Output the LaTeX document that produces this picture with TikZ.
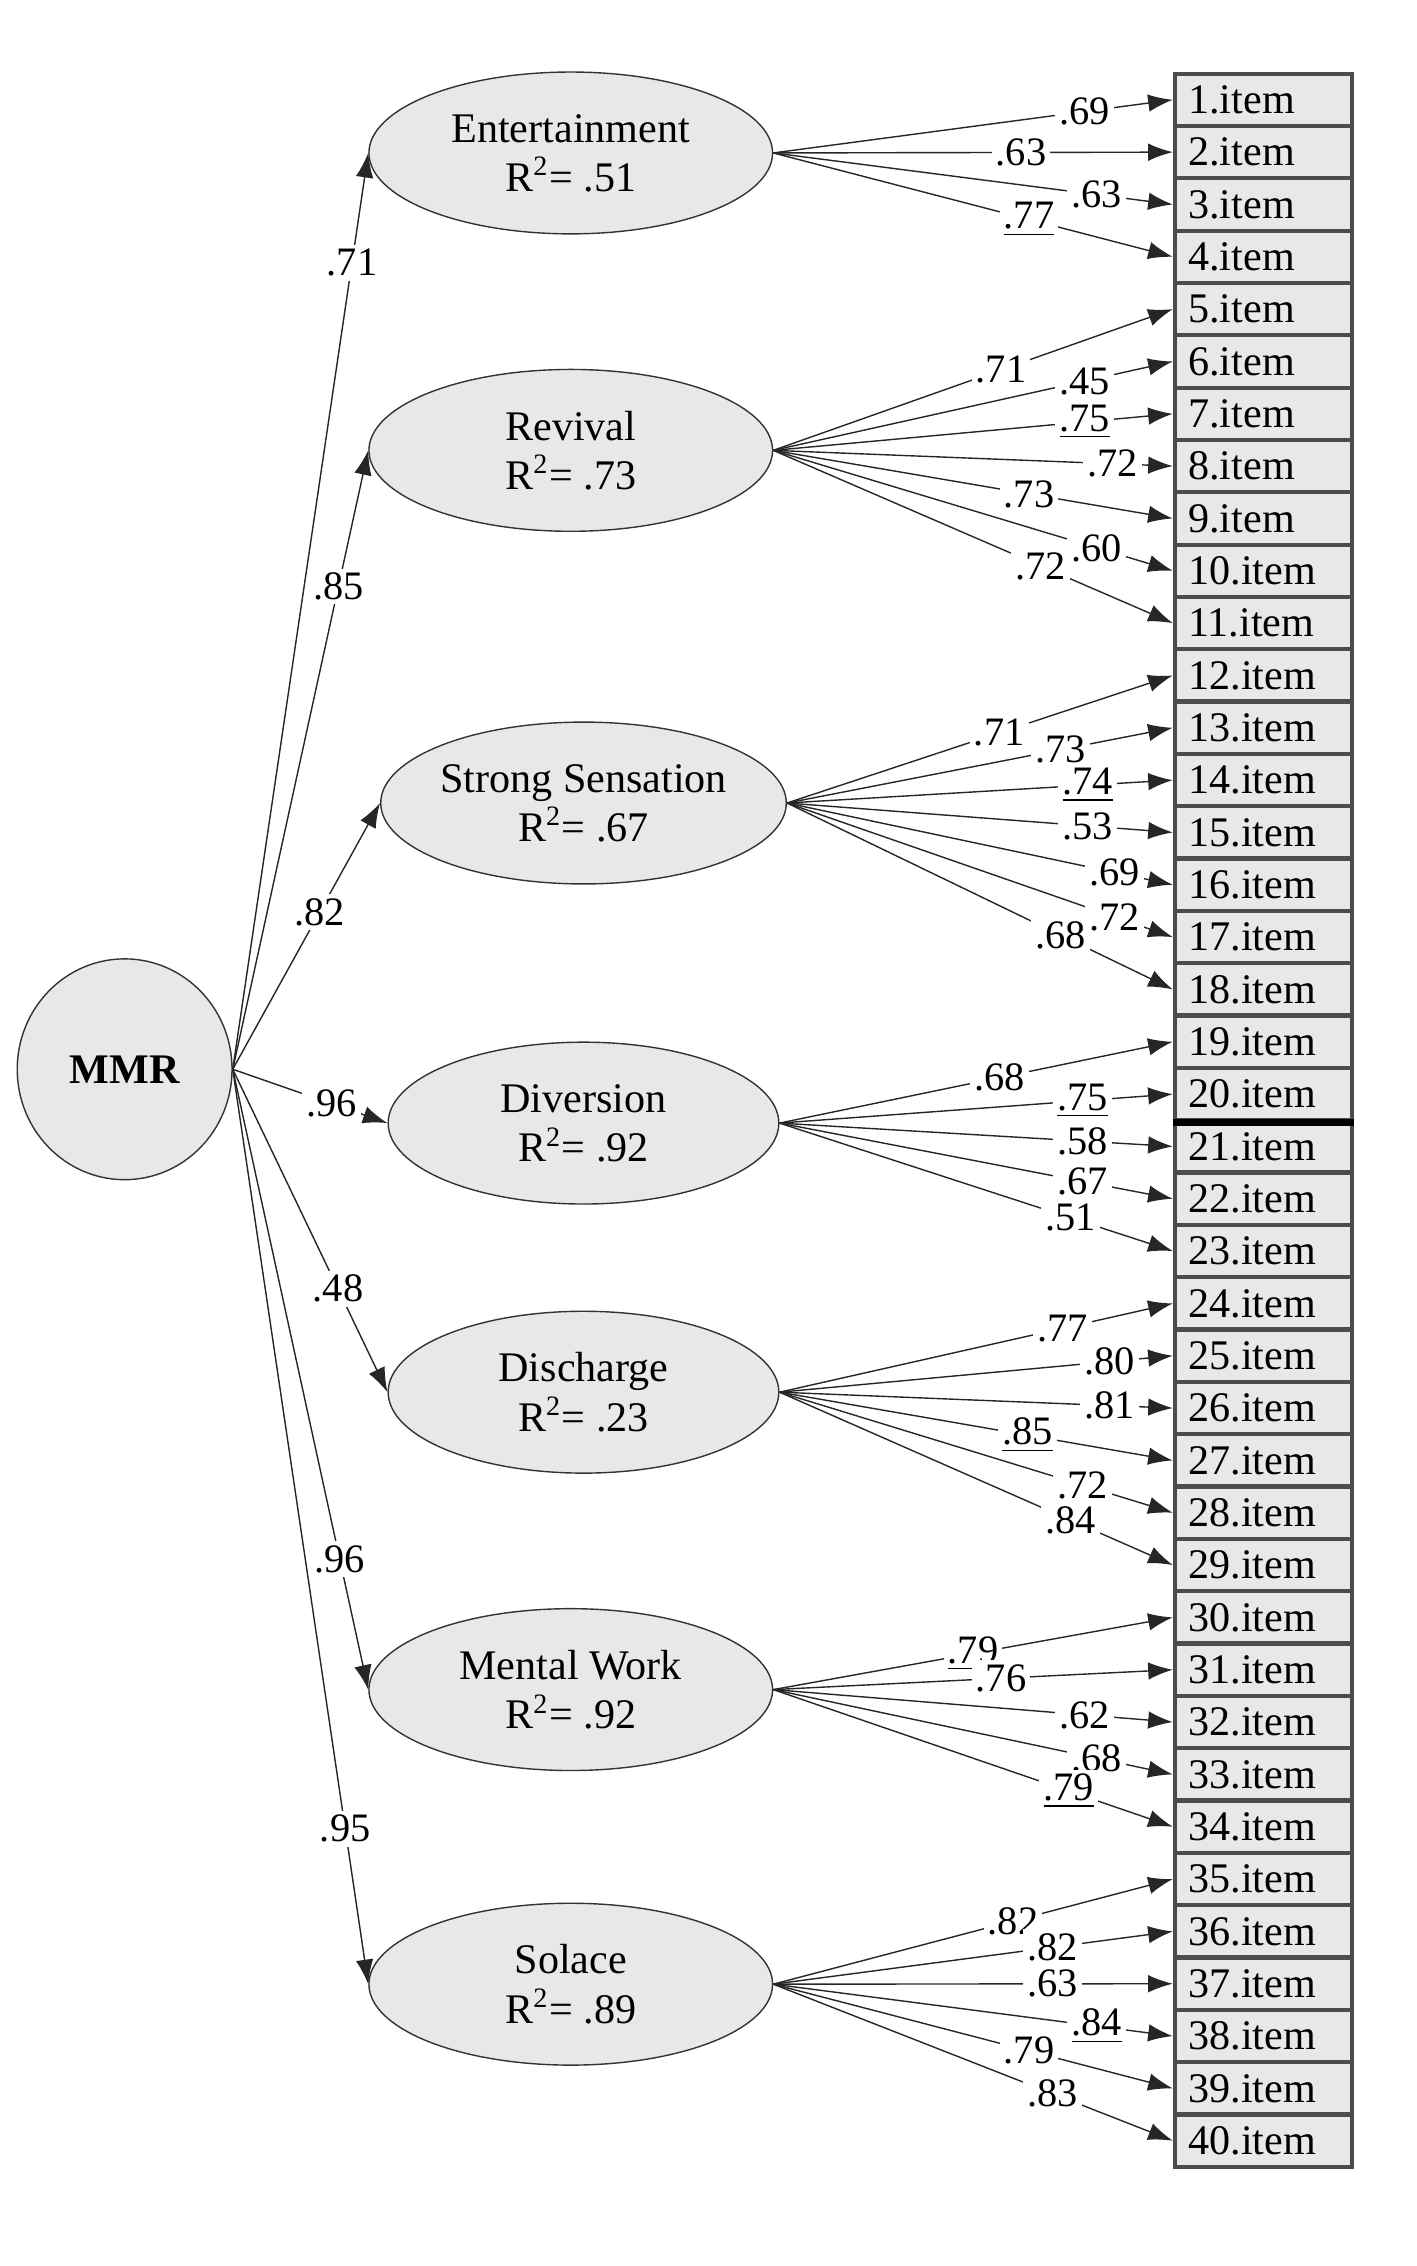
\documentclass[tikz,border=0pt]{standalone}
\usepackage{fontspec}
\setmainfont{Liberation Serif}
\usetikzlibrary{shapes.geometric,arrows.meta,positioning}

\tikzset{
  latent/.style={ellipse, draw=black!80, fill=gray!18, minimum width=4.04cm, minimum height=1.62cm, inner sep=0pt, align=center, font=\fontsize{12}{14}\selectfont},
  item/.style={rectangle, draw=black!70, line width=1.2pt, fill=gray!18, minimum width=1.77cm, minimum height=0.524cm, inner sep=0pt, text width=1.5cm, align=left, font=\fontsize{12}{13}\selectfont},
  path/.style={-{Latex[length=7pt,width=5pt]}, draw=black!85},
  lbl/.style={fill=white, inner sep=1.2pt, font=\fontsize{11.5}{13}\selectfont}
}

\begin{document}
\begin{tikzpicture}[x=0.01417cm, y=-0.01417cm]
  \useasboundingbox (0,0) rectangle (1000,1600);

  % Second order factor
  \node[ellipse, draw=black!80, fill=gray!18, minimum width=2.15cm, minimum height=2.21cm, inner sep=0pt, font=\bfseries\fontsize{12}{14}\selectfont] (mmr) at (88,755) {MMR};

  % First order factors
  \node[latent] (ent) at (403,108) {Entertainment\\R\textsuperscript{2}= .51};
  \node[latent] (rev) at (403,318) {Revival\\R\textsuperscript{2}= .73};
  \node[latent, minimum width=3.91cm] (str) at (412,567) {Strong Sensation\\R\textsuperscript{2}= .67};
  \node[latent, minimum width=3.91cm] (div) at (412,793) {Diversion\\R\textsuperscript{2}= .92};
  \node[latent, minimum width=3.91cm] (dis) at (412,983) {Discharge\\R\textsuperscript{2}= .23};
  \node[latent] (men) at (403,1193) {Mental Work\\R\textsuperscript{2}= .92};
  \node[latent] (sol) at (403,1401) {Solace\\R\textsuperscript{2}= .89};

  % Items
  \foreach \i in {1,...,40}
    \node[item] (item-\i) at (892,{52+(\i-0.5)*36.95}) {\i.item};
  \draw[line width=2pt] (item-20.south west) -- (item-20.south east);

  % Loadings of MMR
  \foreach \f/\p/\l in {ent/0.88/.71, rev/0.78/.85, str/0.59/.82, div/0.64/.96, dis/0.68/.48, men/0.79/.96, sol/0.83/.95}
    \draw[path] (mmr.east) -- node[lbl, pos=\p] {\l} (\f.west);

  % Loadings of items
  \foreach \j/\p/\l in {1/0.78/.69, 2/0.62/.63, 3/0.81/.63, 4/0.64/{\underline{.77}}}
    \draw[path] (ent.east) -- node[lbl, pos=\p] {\l} (item-\j.west);
  \foreach \j/\p/\l in {5/0.57/.71, 6/0.78/.45, 7/0.78/{\underline{.75}}, 8/0.85/.72, 9/0.64/.73, 10/0.81/.60, 11/0.67/.72}
    \draw[path] (rev.east) -- node[lbl, pos=\p] {\l} (item-\j.west);
  \foreach \j/\p/\l in {12/0.55/.71, 13/0.71/.73, 14/0.78/{\underline{.74}}, 15/0.78/.53, 16/0.85/.69, 17/0.85/.72, 18/0.71/.68}
    \draw[path] (str.east) -- node[lbl, pos=\p] {\l} (item-\j.west);
  \foreach \j/\p/\l in {19/0.56/.68, 20/0.77/{\underline{.75}}, 21/0.77/.58, 22/0.77/.67, 23/0.74/.51}
    \draw[path] (div.east) -- node[lbl, pos=\p] {\l} (item-\j.west);
  \foreach \j/\p/\l in {24/0.72/.77, 25/0.84/.80, 26/0.84/.81, 27/0.63/{\underline{.85}}, 28/0.77/.72, 29/0.74/.84}
    \draw[path] (dis.east) -- node[lbl, pos=\p] {\l} (item-\j.west);
  \foreach \j/\p/\l in {30/0.5/{\underline{.79}}, 31/0.57/.76, 32/0.78/.62, 33/0.81/.68, 34/0.74/{\underline{.79}}}
    \draw[path] (men.east) -- node[lbl, pos=\p] {\l} (item-\j.west);
  \foreach \j/\p/\l in {35/0.6/.82, 36/0.7/.82, 37/0.7/.63, 38/0.81/{\underline{.84}}, 39/0.64/.79, 40/0.7/.83}
    \draw[path] (sol.east) -- node[lbl, pos=\p] {\l} (item-\j.west);
\end{tikzpicture}
\end{document}
